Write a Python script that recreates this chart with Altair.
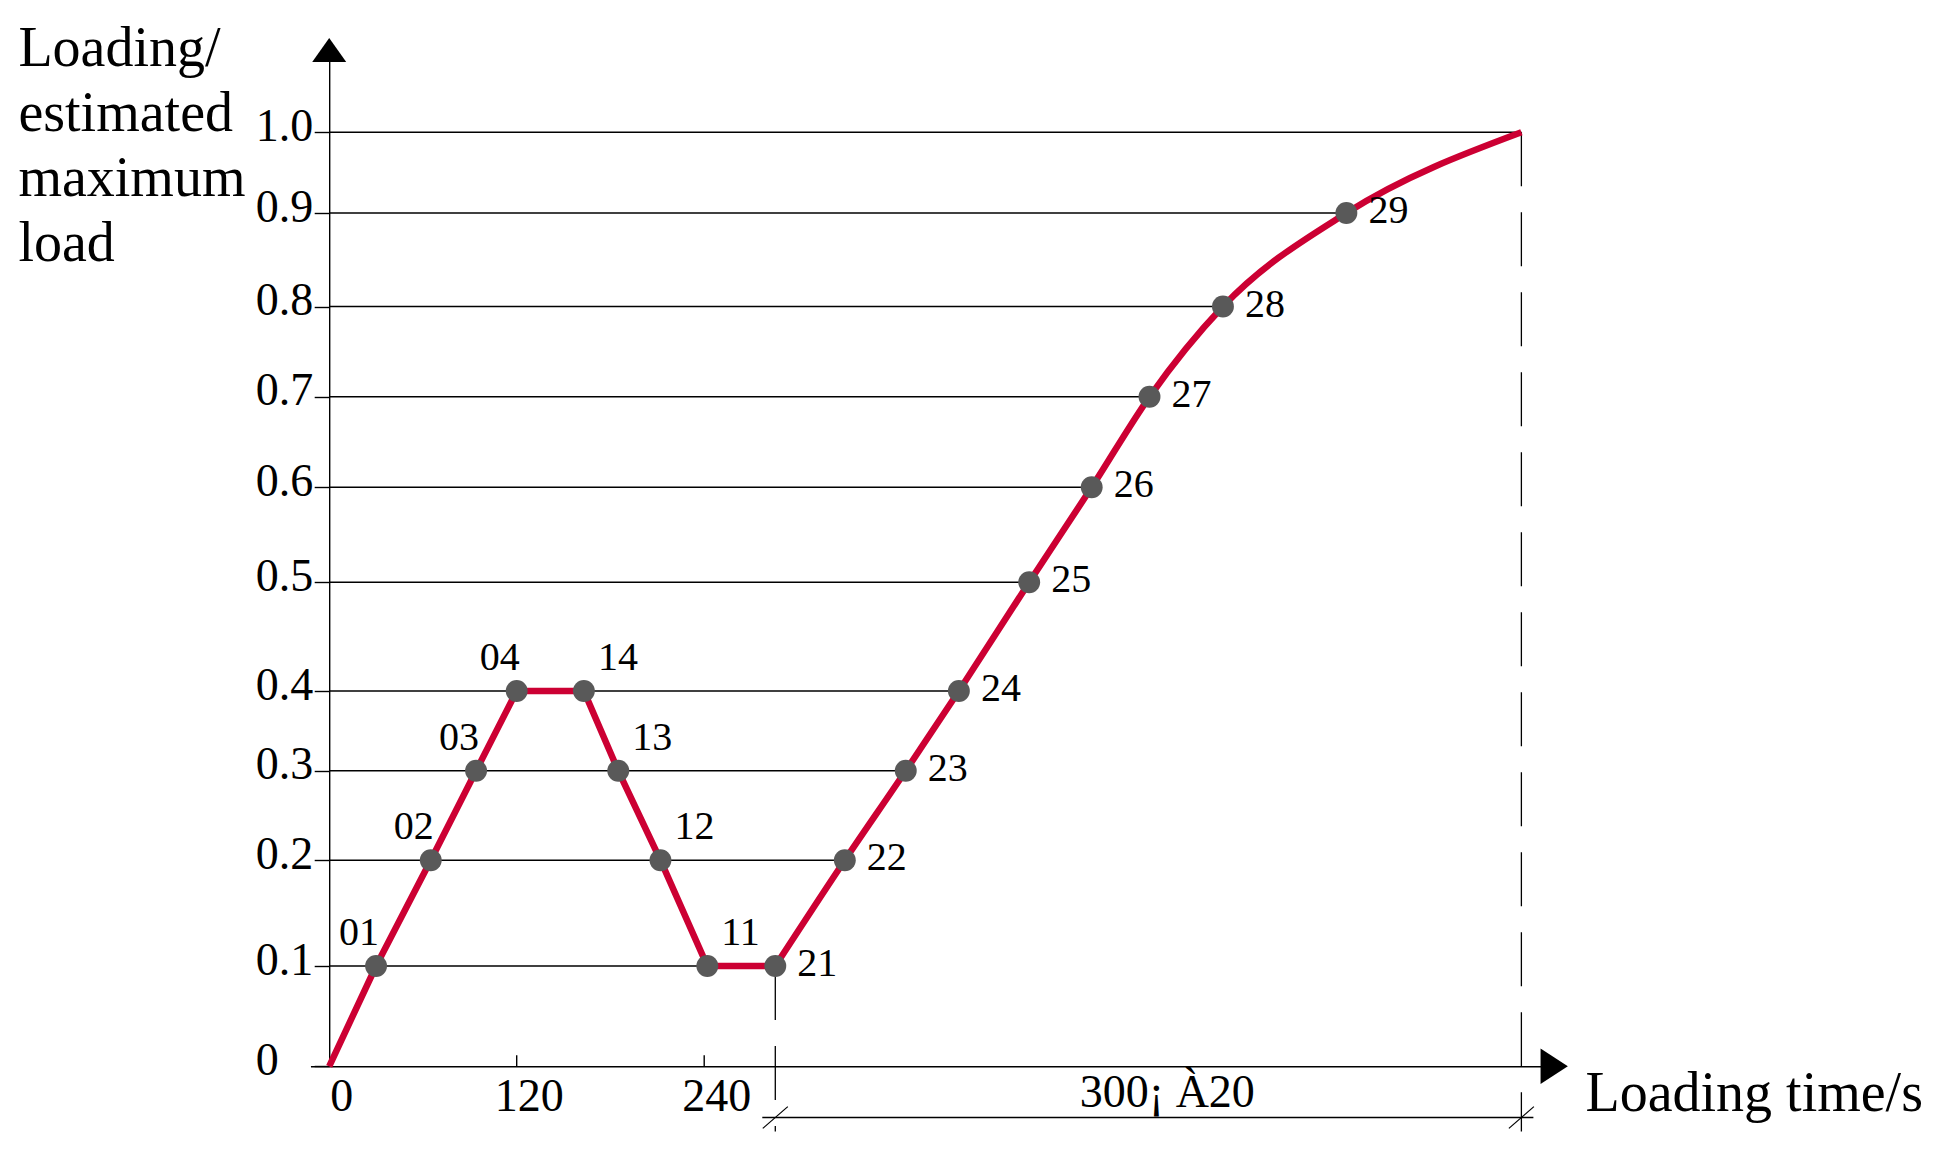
import altair as alt
import pandas as pd

FONT = "Liberation Serif"

# ---------------- data ----------------
LOAD_NAMES = ["01", "02", "03", "04"]
LOAD_T = [30, 65, 94, 120]
LOAD_V = [0.1, 0.2, 0.3, 0.4]

UNLOAD_NAMES = ["14", "13", "12", "11"]
UNLOAD_T = [163, 185, 212, 242]
UNLOAD_V = [0.4, 0.3, 0.2, 0.1]

RELOAD_NAMES = ["21", "22", "23", "24", "25", "26", "27", "28", "29"]
RELOAD_T = [285.5, 330, 369, 403, 448, 488, 525, 572, 651]
RELOAD_V = [0.1, 0.2, 0.3, 0.4, 0.5, 0.6, 0.7, 0.8, 0.9]

START_T, START_V = 0, 0.0
END_T, END_V = 763, 1.0

Y_TICKS = [0.0, 0.1, 0.2, 0.3, 0.4, 0.5, 0.6, 0.7, 0.8, 0.9, 1.0]
X_TICKS = [0, 120, 240]
RANGE_LABEL = "300¡ À20"
Y_TITLE = ["Loading/", "estimated", "maximum", "load"]
X_TITLE = "Loading time/s"

# ---------------- scale set-up (schematic, uneven level spacing) ----------------
X_MIN, X_MAX = -12, 784
Y_TOP = 1.1
Y_STOPS = Y_TICKS + [Y_TOP]
Y_PIX = [1016.3, 916, 810.2, 720.8, 641, 532.2, 437.3, 346.8, 256.5, 163, 82.3, 0]
DIM_LEVEL = -0.051
DASH_END = -0.065

W = (X_MAX - X_MIN) * 1.5625
H = Y_PIX[0]

xs = alt.Scale(domain=[X_MIN, X_MAX], nice=False, zero=False)
ys = alt.Scale(domain=Y_STOPS, range=Y_PIX, nice=False, zero=False)

# ---------------- tables ----------------
pts = pd.DataFrame({
    "name": LOAD_NAMES + UNLOAD_NAMES + RELOAD_NAMES,
    "t": LOAD_T + UNLOAD_T + RELOAD_T,
    "v": LOAD_V + UNLOAD_V + RELOAD_V,
    "phase": ["loading"] * len(LOAD_T) + ["unloading"] * len(UNLOAD_T) + ["reloading"] * len(RELOAD_T),
})
path1 = pd.DataFrame({
    "t": [START_T] + LOAD_T + UNLOAD_T + [RELOAD_T[0]],
    "v": [START_V] + LOAD_V + UNLOAD_V + [RELOAD_V[0]],
})
path2 = pd.DataFrame({"t": RELOAD_T + [END_T], "v": RELOAD_V + [END_V]})
grid = pd.DataFrame({"t0": [START_T] * (len(RELOAD_T) + 1), "t": RELOAD_T + [END_T], "v": RELOAD_V + [END_V]})
dashed = pd.DataFrame({"t": [RELOAD_T[0], END_T], "v": [RELOAD_V[0], END_V], "bottom": [DASH_END, DASH_END]})
dim = pd.DataFrame({"t0": [RELOAD_T[0]], "t1": [END_T], "lvl": [DIM_LEVEL], "label": [RANGE_LABEL]})
dim_ends = pd.DataFrame({"t": [RELOAD_T[0], END_T], "lvl": [DIM_LEVEL, DIM_LEVEL]})
xticks_df = pd.DataFrame({"t": X_TICKS[1:], "v": [0.0] * (len(X_TICKS) - 1)})
y_arrow = pd.DataFrame({"t": [0], "v": [Y_TOP]})
x_arrow = pd.DataFrame({"t": [X_MAX], "v": [0.0]})

x_axis = alt.Axis(
    values=X_TICKS, format="d", grid=False,
    domain=True, domainColor="black", domainWidth=1.4,
    ticks=False, tickSize=0,
    labelFont=FONT, labelFontSize=46, labelColor="black",
    labelAlign="center", labelBaseline="alphabetic", labelPadding=44, labelOffset=12,
    labelFlush=False, labelOverlap=False,
    title=X_TITLE, titleFont=FONT, titleFontSize=56, titleFontWeight="normal", titleColor="black",
    titleAngle=0, titleAlign="left", titleBaseline="alphabetic", titleAnchor="start",
    titleX=1274.5, titleY=44,
)
y_axis = alt.Axis(
    values=Y_TICKS, grid=False, offset=-18.75,
    labelExpr="datum.value == 0 ? '0' : format(datum.value, '.1f')",
    domain=True, domainColor="black", domainWidth=1.4,
    ticks=True, tickSize=15, tickColor="black", tickWidth=1.4,
    labelFont=FONT, labelFontSize=46, labelColor="black",
    labelAlign="left", labelBaseline="alphabetic", labelPadding=59, labelOffset=8,
    labelFlush=False, labelOverlap=False,
    title=Y_TITLE, titleFont=FONT, titleFontSize=56, titleFontWeight="normal", titleColor="black",
    titleAngle=0, titleAlign="left", titleBaseline="alphabetic", titleAnchor="start",
    titleX=-311.3, titleY=15, titleLineHeight=65,
)


def X(f):
    return alt.X(f, type="quantitative", scale=xs, axis=x_axis)


def Y(f):
    return alt.Y(f, type="quantitative", scale=ys, axis=y_axis)


line1 = alt.Chart(path1).mark_line(color="#CC0033", strokeWidth=6.5).encode(x=X("t"), y=Y("v"))

# horizontal level lines from the load axis to the reloading curve
grid_layer = alt.Chart(grid).mark_rule(color="black", strokeWidth=1.5).encode(
    x=X("t0"), x2=alt.X2("t"), y=Y("v"),
)

dash_layer = alt.Chart(dashed).mark_rule(color="black", strokeWidth=1.3, strokeDash=[54, 26]).encode(
    x=X("t"), y=Y("v"), y2=alt.Y2("bottom"),
)

dim_rule = alt.Chart(dim).mark_rule(color="black", strokeWidth=1.4, xOffset=-13, x2Offset=12).encode(
    x=X("t0"), x2=alt.X2("t1"), y=Y("lvl"),
)

dim_slash = alt.Chart(dim_ends).mark_point(
    shape="M -1 0.87 L 1 -0.87", size=625, filled=False, color="black", strokeWidth=1.2, opacity=1
).encode(x=X("t"), y=Y("lvl"))

dim_text = alt.Chart(dim).transform_calculate(mid="(datum.t0 + datum.t1) / 2").mark_text(
    font=FONT, fontSize=46, color="black", align="center", baseline="alphabetic", dx=19, dy=-10
).encode(x=X("mid"), y=Y("lvl"), text=alt.Text("label", type="nominal"))

x_ticks = alt.Chart(xticks_df).mark_tick(
    orient="vertical", size=11, thickness=1.4, yOffset=-5.5, color="black", opacity=1
).encode(x=X("t"), y=Y("v"))

y_arrow_layer = alt.Chart(y_arrow).mark_point(
    shape="M 0 -0.7 L 1 0.7 L -1 0.7 Z", size=1156, filled=True, color="black", opacity=1, strokeWidth=0
).encode(x=X("t"), y=Y("v"))

x_arrow_layer = alt.Chart(x_arrow).mark_point(
    shape="M 1 0 L -1 -1.3 L -1 1.3 Z", size=745, filled=True, color="black", opacity=1, strokeWidth=0
).encode(x=X("t"), y=Y("v"))

line2 = alt.Chart(path2).mark_line(color="#CC0033", strokeWidth=6.5, interpolate="monotone").encode(
    x=X("t"), y=Y("v")
)

dots = alt.Chart(pts).mark_circle(size=480, color="#595959", opacity=1).encode(x=X("t"), y=Y("v"))

lab_load = alt.Chart(pts).transform_filter("datum.phase == 'loading'").mark_text(
    font=FONT, fontSize=40, color="black", align="right", baseline="alphabetic", dx=3, dy=-21
).encode(x=X("t"), y=Y("v"), text=alt.Text("name", type="nominal"))
lab_unload = alt.Chart(pts).transform_filter("datum.phase == 'unloading'").mark_text(
    font=FONT, fontSize=40, color="black", align="left", baseline="alphabetic", dx=14, dy=-21
).encode(x=X("t"), y=Y("v"), text=alt.Text("name", type="nominal"))
lab_reload = alt.Chart(pts).transform_filter("datum.phase == 'reloading'").mark_text(
    font=FONT, fontSize=40, color="black", align="left", baseline="alphabetic", dx=22, dy=10
).encode(x=X("t"), y=Y("v"), text=alt.Text("name", type="nominal"))

chart = alt.layer(
    grid_layer, dash_layer, dim_rule, dim_slash, dim_text, x_ticks,
    y_arrow_layer, x_arrow_layer, line1, line2, dots, lab_load, lab_unload, lab_reload,
).properties(
    width=W,
    height=H,
    autosize=alt.AutoSizeParams(type="none"),
    padding={"left": 302.45, "top": 42, "right": 384.8, "bottom": 83.7},
    background="white",
).configure_view(stroke=None)

chart.save("out.html", embed_options={"renderer": "svg", "actions": False})
